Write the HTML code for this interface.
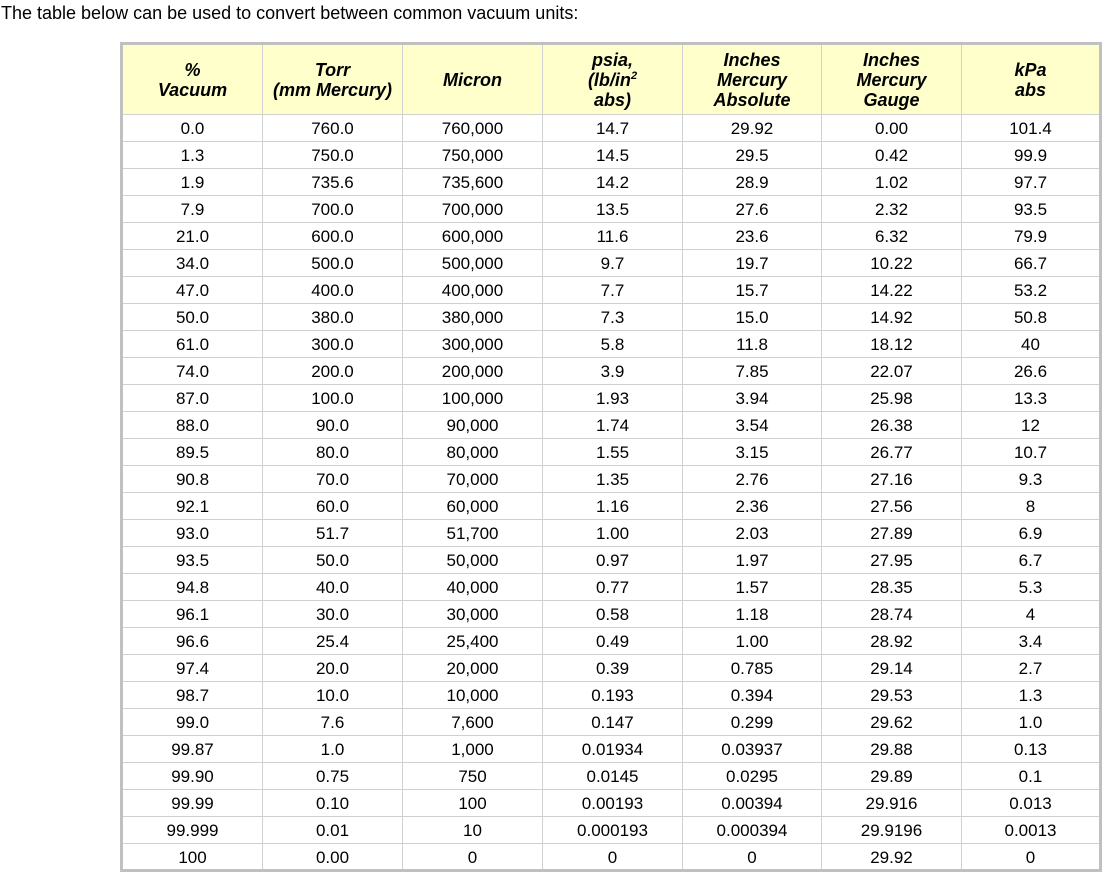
<!DOCTYPE html>
<html>
<head>
<meta charset="utf-8">
<style>
  html, body { margin:0; padding:0; background:#ffffff; }
  body { width:1117px; height:885px; position:relative; overflow:hidden;
         font-family:"Liberation Sans", Arial, sans-serif; color:#000; }
  #intro { position:absolute; left:1px; top:4px; font-size:18px; line-height:18px; white-space:nowrap; }
  #t { position:absolute; left:120px; top:42px; width:976px; height:824px;
       border:3px solid #c0c0c0; background:#fff; }
  #hb { position:absolute; left:0; top:0; width:976px; height:69px; background:#ffffcc; }
  .v { position:absolute; top:0; width:1px; height:824px; background:#d0d0d0; }
  .h { position:absolute; left:0; width:976px; height:1px; background:#d0d0d0; }
  .r { position:absolute; left:0; width:976px; height:26px; }
  .r span { position:absolute; top:1px; height:26px; line-height:26px; text-align:center;
            font-size:17px; white-space:nowrap; }
  .hd { position:absolute; left:0; top:0; width:976px; height:69px; }
  .hd div { position:absolute; top:0; height:69px; display:flex; align-items:center;
            justify-content:center; text-align:center; font-size:18px; line-height:20px;
            font-weight:bold; font-style:italic; }
  .hd div span { display:block; }
  sup { font-size:11px; line-height:0; vertical-align:7px; }
  .c1 { left:0; width:139px; }
  .c2 { left:140px; width:139px; }
  .c3 { left:280px; width:139px; }
  .c4 { left:420px; width:139px; }
  .c5 { left:560px; width:138px; }
  .c6 { left:699px; width:139px; }
  .c7 { left:839px; width:137px; }
</style>
</head>
<body>
<div id="intro">The table below can be used to convert between common vacuum units:</div>
<div id="t">
  <div id="hb"></div>
  <div class="v" style="left:139px"></div>
  <div class="v" style="left:279px"></div>
  <div class="v" style="left:419px"></div>
  <div class="v" style="left:559px"></div>
  <div class="v" style="left:698px"></div>
  <div class="v" style="left:838px"></div>

  <div class="h" style="top:69px"></div>
  <div class="h" style="top:96px"></div>
  <div class="h" style="top:123px"></div>
  <div class="h" style="top:150px"></div>
  <div class="h" style="top:177px"></div>
  <div class="h" style="top:204px"></div>
  <div class="h" style="top:231px"></div>
  <div class="h" style="top:258px"></div>
  <div class="h" style="top:285px"></div>
  <div class="h" style="top:312px"></div>
  <div class="h" style="top:339px"></div>
  <div class="h" style="top:366px"></div>
  <div class="h" style="top:393px"></div>
  <div class="h" style="top:420px"></div>
  <div class="h" style="top:447px"></div>
  <div class="h" style="top:474px"></div>
  <div class="h" style="top:501px"></div>
  <div class="h" style="top:528px"></div>
  <div class="h" style="top:555px"></div>
  <div class="h" style="top:582px"></div>
  <div class="h" style="top:609px"></div>
  <div class="h" style="top:636px"></div>
  <div class="h" style="top:663px"></div>
  <div class="h" style="top:690px"></div>
  <div class="h" style="top:717px"></div>
  <div class="h" style="top:744px"></div>
  <div class="h" style="top:771px"></div>
  <div class="h" style="top:798px"></div>

  <div class="hd">
    <div class="c1"><span>%<br>Vacuum</span></div>
    <div class="c2"><span>Torr<br>(mm Mercury)</span></div>
    <div class="c3"><span>Micron</span></div>
    <div class="c4"><span>psia,<br>(lb/in<sup>2</sup><br>abs)</span></div>
    <div class="c5"><span>Inches<br>Mercury<br>Absolute</span></div>
    <div class="c6"><span>Inches<br>Mercury<br>Gauge</span></div>
    <div class="c7"><span>kPa<br>abs</span></div>
  </div>

  <div class="r" style="top:70px"><span class="c1">0.0</span><span class="c2">760.0</span><span class="c3">760,000</span><span class="c4">14.7</span><span class="c5">29.92</span><span class="c6">0.00</span><span class="c7">101.4</span></div>
  <div class="r" style="top:97px"><span class="c1">1.3</span><span class="c2">750.0</span><span class="c3">750,000</span><span class="c4">14.5</span><span class="c5">29.5</span><span class="c6">0.42</span><span class="c7">99.9</span></div>
  <div class="r" style="top:124px"><span class="c1">1.9</span><span class="c2">735.6</span><span class="c3">735,600</span><span class="c4">14.2</span><span class="c5">28.9</span><span class="c6">1.02</span><span class="c7">97.7</span></div>
  <div class="r" style="top:151px"><span class="c1">7.9</span><span class="c2">700.0</span><span class="c3">700,000</span><span class="c4">13.5</span><span class="c5">27.6</span><span class="c6">2.32</span><span class="c7">93.5</span></div>
  <div class="r" style="top:178px"><span class="c1">21.0</span><span class="c2">600.0</span><span class="c3">600,000</span><span class="c4">11.6</span><span class="c5">23.6</span><span class="c6">6.32</span><span class="c7">79.9</span></div>
  <div class="r" style="top:205px"><span class="c1">34.0</span><span class="c2">500.0</span><span class="c3">500,000</span><span class="c4">9.7</span><span class="c5">19.7</span><span class="c6">10.22</span><span class="c7">66.7</span></div>
  <div class="r" style="top:232px"><span class="c1">47.0</span><span class="c2">400.0</span><span class="c3">400,000</span><span class="c4">7.7</span><span class="c5">15.7</span><span class="c6">14.22</span><span class="c7">53.2</span></div>
  <div class="r" style="top:259px"><span class="c1">50.0</span><span class="c2">380.0</span><span class="c3">380,000</span><span class="c4">7.3</span><span class="c5">15.0</span><span class="c6">14.92</span><span class="c7">50.8</span></div>
  <div class="r" style="top:286px"><span class="c1">61.0</span><span class="c2">300.0</span><span class="c3">300,000</span><span class="c4">5.8</span><span class="c5">11.8</span><span class="c6">18.12</span><span class="c7">40</span></div>
  <div class="r" style="top:313px"><span class="c1">74.0</span><span class="c2">200.0</span><span class="c3">200,000</span><span class="c4">3.9</span><span class="c5">7.85</span><span class="c6">22.07</span><span class="c7">26.6</span></div>
  <div class="r" style="top:340px"><span class="c1">87.0</span><span class="c2">100.0</span><span class="c3">100,000</span><span class="c4">1.93</span><span class="c5">3.94</span><span class="c6">25.98</span><span class="c7">13.3</span></div>
  <div class="r" style="top:367px"><span class="c1">88.0</span><span class="c2">90.0</span><span class="c3">90,000</span><span class="c4">1.74</span><span class="c5">3.54</span><span class="c6">26.38</span><span class="c7">12</span></div>
  <div class="r" style="top:394px"><span class="c1">89.5</span><span class="c2">80.0</span><span class="c3">80,000</span><span class="c4">1.55</span><span class="c5">3.15</span><span class="c6">26.77</span><span class="c7">10.7</span></div>
  <div class="r" style="top:421px"><span class="c1">90.8</span><span class="c2">70.0</span><span class="c3">70,000</span><span class="c4">1.35</span><span class="c5">2.76</span><span class="c6">27.16</span><span class="c7">9.3</span></div>
  <div class="r" style="top:448px"><span class="c1">92.1</span><span class="c2">60.0</span><span class="c3">60,000</span><span class="c4">1.16</span><span class="c5">2.36</span><span class="c6">27.56</span><span class="c7">8</span></div>
  <div class="r" style="top:475px"><span class="c1">93.0</span><span class="c2">51.7</span><span class="c3">51,700</span><span class="c4">1.00</span><span class="c5">2.03</span><span class="c6">27.89</span><span class="c7">6.9</span></div>
  <div class="r" style="top:502px"><span class="c1">93.5</span><span class="c2">50.0</span><span class="c3">50,000</span><span class="c4">0.97</span><span class="c5">1.97</span><span class="c6">27.95</span><span class="c7">6.7</span></div>
  <div class="r" style="top:529px"><span class="c1">94.8</span><span class="c2">40.0</span><span class="c3">40,000</span><span class="c4">0.77</span><span class="c5">1.57</span><span class="c6">28.35</span><span class="c7">5.3</span></div>
  <div class="r" style="top:556px"><span class="c1">96.1</span><span class="c2">30.0</span><span class="c3">30,000</span><span class="c4">0.58</span><span class="c5">1.18</span><span class="c6">28.74</span><span class="c7">4</span></div>
  <div class="r" style="top:583px"><span class="c1">96.6</span><span class="c2">25.4</span><span class="c3">25,400</span><span class="c4">0.49</span><span class="c5">1.00</span><span class="c6">28.92</span><span class="c7">3.4</span></div>
  <div class="r" style="top:610px"><span class="c1">97.4</span><span class="c2">20.0</span><span class="c3">20,000</span><span class="c4">0.39</span><span class="c5">0.785</span><span class="c6">29.14</span><span class="c7">2.7</span></div>
  <div class="r" style="top:637px"><span class="c1">98.7</span><span class="c2">10.0</span><span class="c3">10,000</span><span class="c4">0.193</span><span class="c5">0.394</span><span class="c6">29.53</span><span class="c7">1.3</span></div>
  <div class="r" style="top:664px"><span class="c1">99.0</span><span class="c2">7.6</span><span class="c3">7,600</span><span class="c4">0.147</span><span class="c5">0.299</span><span class="c6">29.62</span><span class="c7">1.0</span></div>
  <div class="r" style="top:691px"><span class="c1">99.87</span><span class="c2">1.0</span><span class="c3">1,000</span><span class="c4">0.01934</span><span class="c5">0.03937</span><span class="c6">29.88</span><span class="c7">0.13</span></div>
  <div class="r" style="top:718px"><span class="c1">99.90</span><span class="c2">0.75</span><span class="c3">750</span><span class="c4">0.0145</span><span class="c5">0.0295</span><span class="c6">29.89</span><span class="c7">0.1</span></div>
  <div class="r" style="top:745px"><span class="c1">99.99</span><span class="c2">0.10</span><span class="c3">100</span><span class="c4">0.00193</span><span class="c5">0.00394</span><span class="c6">29.916</span><span class="c7">0.013</span></div>
  <div class="r" style="top:772px"><span class="c1">99.999</span><span class="c2">0.01</span><span class="c3">10</span><span class="c4">0.000193</span><span class="c5">0.000394</span><span class="c6">29.9196</span><span class="c7">0.0013</span></div>
  <div class="r" style="top:799px"><span class="c1">100</span><span class="c2">0.00</span><span class="c3">0</span><span class="c4">0</span><span class="c5">0</span><span class="c6">29.92</span><span class="c7">0</span></div>
</div>
</body>
</html>
